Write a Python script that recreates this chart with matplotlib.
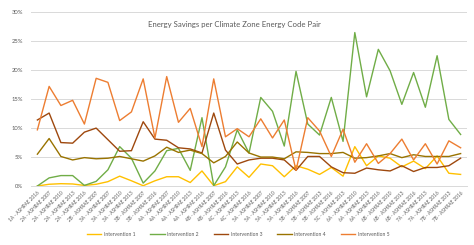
import matplotlib
matplotlib.use("Agg")
import matplotlib.pyplot as plt
from matplotlib.ticker import FuncFormatter, MultipleLocator

plt.rcParams['font.family'] = ['Lato', 'DejaVu Sans']

categories = [
    "1A - ASHRAE 2016", "2A - ASHRAE 2007", "2A - ASHRAE 2010", "2A - ASHRAE 2013",
    "2A - ASHRAE 2016", "2B - ASHRAE 2007", "3A - ASHRAE 2007", "3A - ASHRAE 2010",
    "3A - ASHRAE 2013", "3B - ASHRAE 2007", "3B - ASHRAE 2016", "4A - ASHRAE 2007",
    "4A - ASHRAE 2010", "4A - ASHRAE 2013", "4A - ASHRAE 2016", "4B - ASHRAE 2007",
    "4B - ASHRAE 2016", "4C - ASHRAE 2013", "4C - ASHRAE 2016", "5A - ASHRAE 2007",
    "5A - ASHRAE 2010", "5A - ASHRAE 2013", "5A - ASHRAE 2016", "5B - ASHRAE 2007",
    "5B - ASHRAE 2013", "5B - ASHRAE 2016", "5C - ASHRAE 2013", "6A - ASHRAE 2010",
    "6A - ASHRAE 2013", "6A - ASHRAE 2016", "6B - ASHRAE 2010", "6B - ASHRAE 2013",
    "6B - ASHRAE 2016", "7A - ASHRAE 2013", "7A - ASHRAE 2016", "7B - ASHRAE 2013",
    "7B - ASHRAE 2016",
]

intervention_1 = [0.0, 0.3, 0.4, 0.35, 0.1, 0.3, 0.75, 1.7, 0.9, 0.05, 0.9, 1.6, 1.6,
                  0.6, 2.6, 0.05, 0.75, 3.3, 1.5, 3.8, 3.5, 1.6, 3.5, 2.9, 2.0, 3.2,
                  1.7, 6.8, 3.5, 5.2, 4.8, 3.3, 4.3, 3.0, 5.2, 2.2, 2.0]
intervention_2 = [0.0, 1.4, 1.8, 1.8, 0.1, 0.8, 2.8, 6.8, 4.8, 0.5, 2.6, 6.1, 6.5,
                  2.7, 11.8, 0.05, 3.3, 9.7, 5.7, 15.3, 12.9, 6.9, 19.8, 10.7, 8.8,
                  15.3, 7.7, 26.5, 15.4, 23.6, 19.9, 14.1, 19.6, 13.6, 22.5, 11.5, 8.9]
intervention_3 = [11.4, 12.6, 7.5, 7.4, 9.3, 10.0, 8.0, 6.0, 6.1, 11.1, 8.1, 7.9, 6.6,
                  6.4, 5.7, 12.6, 6.2, 3.8, 4.5, 4.8, 4.8, 4.5, 2.7, 5.1, 5.1, 3.3,
                  2.3, 2.2, 3.1, 2.8, 2.6, 3.5, 2.5, 3.2, 3.2, 3.5, 4.8]
intervention_4 = [5.5, 8.2, 5.1, 4.5, 4.9, 4.7, 4.8, 5.1, 4.7, 4.3, 5.2, 6.7, 5.8,
                  6.2, 5.6, 4.0, 5.1, 7.6, 5.7, 5.0, 5.0, 4.7, 5.9, 5.8, 5.6, 5.6,
                  5.8, 4.8, 4.9, 5.2, 5.6, 4.9, 5.4, 5.1, 5.1, 5.1, 5.6]
intervention_5 = [9.7, 17.2, 13.9, 14.8, 10.7, 18.6, 17.9, 11.3, 12.8, 18.5, 8.3, 18.9,
                  11.0, 13.4, 6.8, 18.5, 8.5, 9.9, 8.5, 11.6, 8.3, 11.4, 2.7, 11.8,
                  9.5, 5.1, 9.8, 4.1, 7.3, 3.9, 5.6, 8.1, 4.5, 7.3, 3.8, 7.8, 6.6]

series_names = ["Intervention 1", "Intervention 2", "Intervention 3",
                "Intervention 4", "Intervention 5"]
series_values = [intervention_1, intervention_2, intervention_3,
                 intervention_4, intervention_5]
colors = ["#FFC000", "#70AD47", "#9E480E", "#997300", "#ED7D31"]

fig = plt.figure(figsize=(4.74, 2.45), dpi=100)
ax = fig.add_axes([31.5 / 474, 59 / 245, 435 / 474, 173.7 / 245])

x = list(range(len(categories)))
for name, vals, c in zip(series_names, series_values, colors):
    ax.plot(x, [v / 100 for v in vals], color=c, lw=1.0, label=name,
            solid_joinstyle='round')

ax.set_xlim(-0.5, len(categories) - 0.5)
ax.set_ylim(0, 0.30)
ax.yaxis.set_major_locator(MultipleLocator(0.05))
ax.yaxis.set_major_formatter(FuncFormatter(lambda v, p: f"{v*100:.0f}%"))
ax.grid(axis='y', color='#D9D9D9', lw=0.7)
ax.set_axisbelow(True)
for s in ['top', 'right', 'left']:
    ax.spines[s].set_visible(False)
ax.spines['bottom'].set_color('#D9D9D9')
ax.spines['bottom'].set_linewidth(0.7)
ax.tick_params(axis='y', length=0, labelsize=4.2, labelcolor='#595959', pad=6)
ax.tick_params(axis='x', length=0, labelsize=3.4, labelcolor='#595959', pad=3)
ax.set_xticks(x)
ax.set_xticklabels(categories, rotation=45, ha='right', va='top',
                   rotation_mode='anchor')

fig.text(0.494, 1 - 25 / 245, "Energy Savings per Climate Zone Energy Code Pair",
         ha='center', va='center', fontsize=5.6, color='#595959')

leg = fig.legend(loc='center', bbox_to_anchor=(238 / 474, 1 - 234 / 245), ncol=5,
                 frameon=False, fontsize=3.6, handlelength=2.9, columnspacing=3.0,
                 handletextpad=0.5)
for t in leg.get_texts():
    t.set_color('#595959')
for l in leg.get_lines():
    l.set_linewidth(1.0)

fig.savefig("out.png", dpi=100)
